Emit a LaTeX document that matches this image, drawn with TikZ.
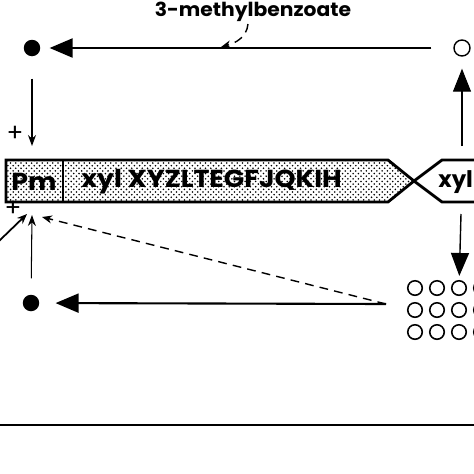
\documentclass[tikz,border=0pt]{standalone}
\usepackage{fontspec}
\setmainfont{Poppins}
\newfontfamily\genefont[FakeStretch=1.09]{Poppins}
\newfontfamily\labfont[FakeStretch=1.05]{Poppins}
\usetikzlibrary{arrows.meta,patterns}
\begin{document}
\begin{tikzpicture}[x=0.02cm,y=-0.02cm,
  fdot/.style={circle,fill=black,inner sep=0pt,minimum size=0.33cm},
  odot/.style={circle,draw=black,line width=0.8pt,inner sep=0pt,minimum size=0.32cm},
  gdot/.style={circle,draw=black,line width=0.9pt,inner sep=0pt,minimum size=0.29cm},
  bigarrow/.style={line width=1.2pt,-{Triangle[length=0.46cm,width=0.38cm]}},
  thinarrow/.style={line width=0.6pt,-{Stealth[length=0.22cm,width=0.16cm]}},
  dasharrow/.style={line width=0.8pt,dash pattern=on 5pt off 3.5pt,-{Stealth[length=0.2cm,width=0.16cm]}},
  genebox/.style={line width=1.6pt,line join=miter},
  genetext/.style={font=\genefont\bfseries\fontsize{14}{14}\selectfont,inner sep=0pt},
  plus/.style={font=\fontsize{14}{14}\selectfont,inner sep=0pt}
]
\useasboundingbox (0,0) rectangle (474,474);
\clip (0,0) rectangle (474,474);
% label
\node[font=\labfont\bfseries\fontsize{11}{11}\selectfont,inner sep=0pt] (lab) at (253,12) {3-methylbenzoate};
% top row
\node[fdot] (d1) at (32,48) {};
\node[odot] (o1) at (462,48) {};
\draw[bigarrow,shorten <=0.44cm,shorten >=0.18cm] (o1) -- (d1);
\coordinate (hit) at (221,47);
\draw[dasharrow] (248,24) to[out=-95,in=15] (hit);
% gene bar
\path[genebox,draw,pattern=crosshatch dots,pattern color=black]
  (6,160) -- (388,160) -- (414,181) -- (388,202) -- (6,202) -- cycle;
\path[genebox,draw,fill=white]
  (414,181) -- (442,160) -- (490,160) -- (490,202) -- (442,202) -- cycle;
\draw[genebox] (63,160) -- (63,202);
\node[genetext] (pm) at (34,182) {Pm};
\node[genetext,anchor=west] (xyl) at (81,182) {xyl XYZLTEGFJQKIH};
\node[font=\bfseries\fontsize{13}{13}\selectfont,inner sep=0pt,anchor=west] (xyls) at (438,182) {xyl};
% arrows to/from bar
\coordinate (pmtop) at (32,146);
\coordinate (pmbot) at (32,215);
\coordinate (pmdash) at (42,217);
\coordinate (pmdiag) at (27,214);
\coordinate (ext) at (-2,242);
\coordinate (xyltop) at (462,146);
\coordinate (xylbot) at (461,214);
\draw[thinarrow,shorten <=0.44cm] (d1) -- (pmtop);
\node[plus] (p1) at (15,134) {+};
\node[plus] (p2) at (13,209) {+};
\draw[line width=0.6pt,-{Triangle[length=0.46cm,width=0.36cm]},shorten >=0.24cm] (xyltop) -- (o1);
% grid of circles
\foreach \i/\y in {1/288,2/310,3/332}{
  \foreach \j/\x in {1/415,2/437,3/459,4/481}{
    \node[gdot] (c-\i-\j) at (\x,\y) {};
  }
}
\draw[line width=0.8pt,-{Triangle[length=0.46cm,width=0.36cm]},shorten >=0.08cm] (xylbot) -- (c-1-3);
% bottom row
\node[fdot] (d2) at (31,303) {};
\coordinate (src) at (386,304);
\draw[bigarrow,shorten >=0.32cm] (src) -- (d2);
\draw[dasharrow] (src) -- (pmdash);
\draw[thinarrow,shorten <=0.32cm] (d2) -- (pmbot);
\draw[line width=1pt,-{Stealth[length=0.2cm,width=0.16cm]}] (ext) -- (pmdiag);
% base line
\coordinate (bl) at (0,425);
\coordinate (br) at (474,425);
\draw[line width=1.4pt] (bl) -- (br);
\end{tikzpicture}
\end{document}
